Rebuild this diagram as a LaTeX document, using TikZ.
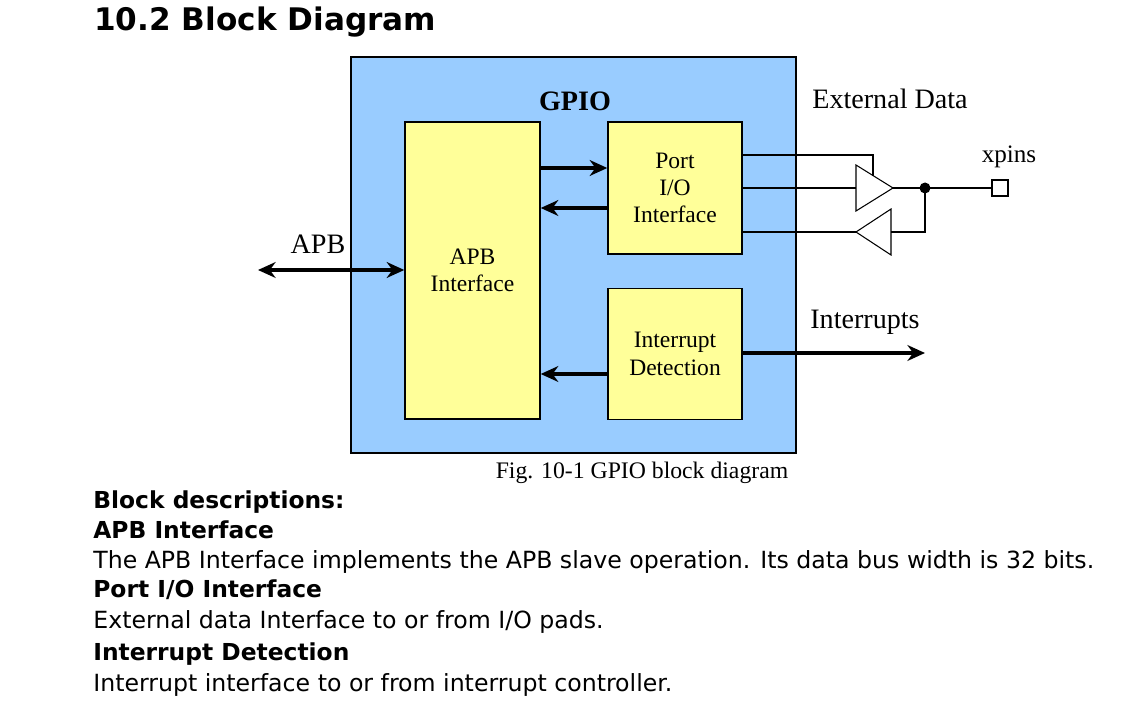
\documentclass[tikz,border=0pt]{standalone}
\usepackage{fontspec}
\setmainfont{Liberation Serif}
\newfontfamily\vsans{DejaVu Sans}
\usetikzlibrary{arrows.meta}
\definecolor{gpioblue}{HTML}{99CCFF}
\definecolor{blockyellow}{HTML}{FFFF99}
\begin{document}
\begin{tikzpicture}[x=0.02cm,y=-0.02cm,
  blk/.style={draw,fill=blockyellow,line width=0.8pt},
  bus/.style={line width=2pt,-{Stealth[length=10pt,width=9pt]}},
  wire/.style={line width=0.6pt},
  lbl/.style={font=\fontsize{13.4}{15.5}\selectfont,align=center},
  big/.style={font=\fontsize{16}{18}\selectfont},
  head/.style={anchor=base west,font=\vsans\bfseries\fontsize{13.3}{15}\selectfont,inner sep=0},
  body/.style={anchor=base west,font=\vsans\fontsize{13.45}{15}\selectfont,inner sep=0}]
\useasboundingbox (0,0) rectangle (1135,722);
% title
\node[head,font=\vsans\bfseries\fontsize{17.7}{20}\selectfont] at (94,31) {10.2 Block Diagram};
% outer block
\draw[fill=gpioblue,line width=0.8pt] (351,57) rectangle (796,453);
\node[font=\bfseries\fontsize{16}{18}\selectfont] at (575,101) {GPIO};
% inner blocks
\node[blk,minimum width=135*0.02cm,minimum height=297*0.02cm,lbl] (apb) at (472.5,270.5) {APB\\Interface};
\node[blk,minimum width=134*0.02cm,minimum height=132*0.02cm,lbl] (port) at (675,188) {Port\\I/O\\Interface};
\node[blk,minimum width=134*0.02cm,minimum height=131*0.02cm,lbl] (irq) at (675,354) {Interrupt\\Detection};
% internal buses
\draw[bus] (apb.east|-0,168) -- (port.west|-0,168);
\draw[bus] (port.west|-0,208) -- (apb.east|-0,208);
\draw[bus] (irq.west|-0,374) -- (apb.east|-0,374);
% APB bus
\coordinate (apbend) at (258,270);
\draw[line width=2pt,{Stealth[length=10pt,width=9pt]}-{Stealth[length=10pt,width=9pt]}] (apbend) -- (apb.west|-apbend);
\node[big] at (318,244) {APB};
% interrupts
\coordinate (irqend) at (925,353);
\draw[bus] (irq.east|-irqend) -- (irqend);
\node[big] at (865,322) {Interrupts};
\node[big] at (890,99) {External Data};
% I/O pad
\draw[wire] (856,165) -- (893,188) -- (856,211) -- cycle;
\draw[wire] (891,209) -- (856,232) -- (891,255) -- cycle;
\draw[wire] (port.east|-0,155) -- (873,155) -- (873,176);
\draw[wire] (port.east|-0,188) -- (856,188);
\draw[wire] (port.east|-0,232) -- (856,232);
\coordinate (dot) at (925,188);
\draw[wire] (893,188) -- (dot) -- (992,188);
\draw[wire] (dot) -- (925,232) -- (891,232);
\fill (dot) circle (5.5);
\draw[line width=1.6pt] (992,180) rectangle (1008,196);
\node[font=\fontsize{14.3}{16}\selectfont] at (1009,157) {xpins};
% caption
\node[font=\fontsize{13.5}{15}\selectfont] at (642,473) {Fig. 10-1 GPIO block diagram};
% descriptions
\node[head] at (93,508) {Block descriptions:};
\node[head] at (93,538) {APB Interface};
\node[body] at (93,568) {The APB Interface implements the APB slave operation. Its data bus width is 32 bits.};
\node[head] at (93,597) {Port I/O Interface};
\node[body] at (93,628) {External data Interface to or from I/O pads.};
\node[head] at (93,660) {Interrupt Detection};
\node[body] at (93,691) {Interrupt interface to or from interrupt controller.};
\end{tikzpicture}
\end{document}
